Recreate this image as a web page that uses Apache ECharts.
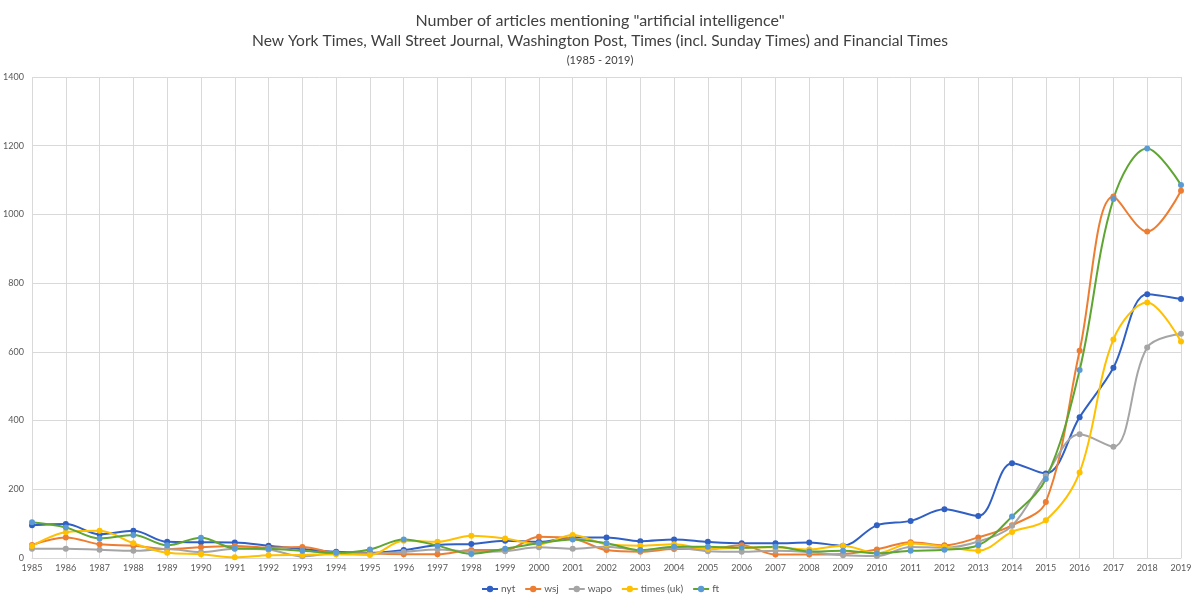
<!DOCTYPE html>
<html>
<head>
<meta charset="utf-8">
<script src="https://cdn.jsdelivr.net/npm/echarts@6/dist/echarts.min.js"></script>
<style>
  html, body { margin: 0; padding: 0; background: #fff; }
  #chart { width: 1200px; height: 602px; }
</style>
</head>
<body>
<div id="chart"></div>
<script>
const years = ['1985','1986','1987','1988','1989','1990','1991','1992','1993','1994','1995','1996','1997','1998','1999','2000','2001','2002','2003','2004','2005','2006','2007','2008','2009','2010','2011','2012','2013','2014','2015','2016','2017','2018','2019'];

const nyt = [95, 99, 69, 79, 47, 46, 45, 36, 26, 18, 15, 23, 38, 41, 50, 47, 60, 60, 49, 54, 47, 43, 43, 45, 36, 95, 108, 142, 122, 276, 246, 410, 554, 768, 754];
const wsj = [38, 60, 40, 36, 26, 31, 35, 30, 32, 15, 13, 11, 11, 23, 23, 62, 57, 23, 18, 26, 26, 37, 10, 10, 12, 25, 46, 37, 60, 95, 163, 603, 1052, 950, 1069];
const wapo = [27, 27, 24, 21, 26, 17, 27, 24, 5, 14, 13, 18, 25, 18, 20, 31, 27, 33, 23, 30, 20, 18, 21, 17, 8, 6, 32, 30, 48, 94, 240, 360, 324, 613, 653];
const timesUk = [35, 75, 79, 43, 15, 11, 2, 8, 9, 11, 9, 50, 47, 65, 57, 40, 67, 40, 36, 40, 26, 30, 31, 25, 36, 14, 42, 33, 21, 76, 110, 249, 636, 744, 630];
const ft = [104, 89, 57, 67, 37, 59, 28, 27, 21, 15, 25, 54, 36, 12, 27, 43, 54, 43, 23, 33, 33, 30, 33, 19, 21, 14, 21, 24, 37, 121, 230, 547, 1045, 1192, 1086];

const yTicks = [0, 200, 400, 600, 800, 1000, 1200, 1400];

const font = 'Lato, "Open Sans", sans-serif';

function line(name, data, color, markerColor) {
  return {
    name: name,
    type: 'line',
    data: data,
    smooth: 0.35,
    symbol: 'circle',
    symbolSize: 6,
    lineStyle: { color: color, width: 2 },
    itemStyle: { color: markerColor || color },
    emphasis: { disabled: true }
  };
}

const titleStyle = { fontFamily: font, fontSize: 16, fontWeight: 'normal', color: '#404040' };

const chart = echarts.init(document.getElementById('chart'));
chart.setOption({
  animation: false,
  backgroundColor: '#fff',
  title: [
    { text: 'Number of articles mentioning "artificial intelligence"', left: 'center', top: 8, textStyle: titleStyle },
    { text: 'New York Times, Wall Street Journal, Washington Post, Times (incl. Sunday Times) and Financial Times', left: 'center', top: 28, textStyle: { ...titleStyle, fontSize: 15.6 } },
    { text: '(1985 - 2019)', left: 'center', top: 50, textStyle: { fontFamily: font, fontSize: 11, fontWeight: 'normal', color: '#404040' } }
  ],
  legend: {
    bottom: 3,
    left: 'center',
    itemWidth: 16,
    itemHeight: 8,
    itemGap: 9,
    textStyle: { fontFamily: font, fontSize: 10, color: '#595959', padding: [0, 0, 0, -2] },
    data: ['nyt', 'wsj', 'wapo', 'times (uk)', 'ft']
  },
  grid: { left: 32, right: 19, top: 77, bottom: 44, containLabel: false },
  xAxis: {
    type: 'category',
    data: years,
    boundaryGap: false,
    axisLine: { lineStyle: { color: '#d9d9d9' } },
    axisTick: { show: false },
    axisLabel: { fontFamily: font, fontSize: 9, color: '#595959', margin: 6, interval: 0 },
    splitLine: { show: true, lineStyle: { color: '#d9d9d9', width: 1 } }
  },
  yAxis: {
    type: 'value',
    min: yTicks[0],
    max: yTicks[yTicks.length - 1],
    interval: 200,
    axisLine: { show: false },
    axisTick: { show: false },
    axisLabel: { fontFamily: font, fontSize: 9, color: '#595959', margin: 8, formatter: v => String(v) },
    splitLine: { lineStyle: { color: '#d9d9d9', width: 1 } }
  },
  series: [
    line('nyt', nyt, '#3060C4'),
    line('wsj', wsj, '#ED7D31'),
    line('wapo', wapo, '#A5A5A5'),
    line('times (uk)', timesUk, '#FFC000'),
    line('ft', ft, '#5FA532', '#5B9BD5')
  ]
});
</script>
</body>
</html>
